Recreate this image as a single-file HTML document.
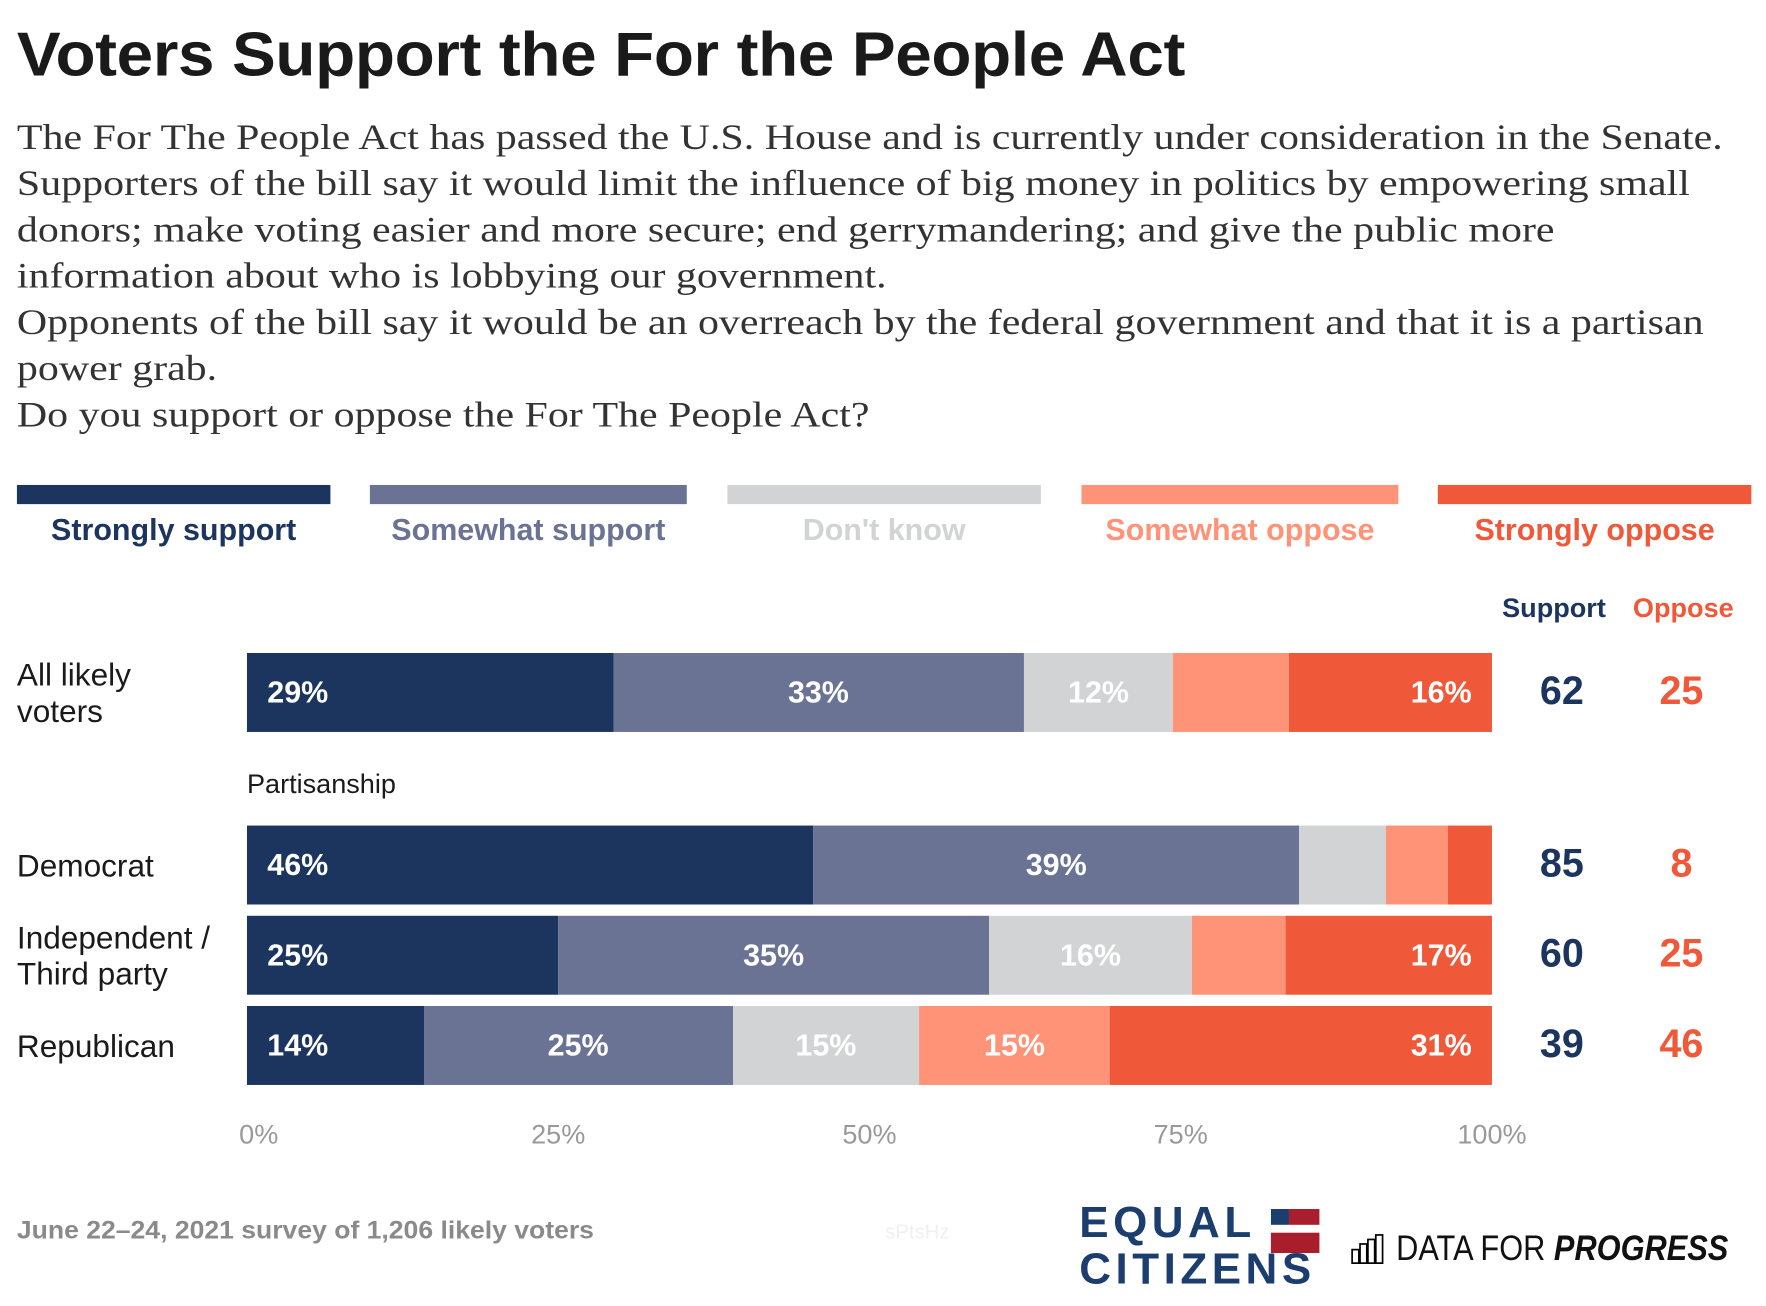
<!DOCTYPE html>
<html><head><meta charset="utf-8">
<style>
html,body{margin:0;padding:0;background:#fff;overflow:hidden}
#wrap{width:1766px;height:1306px;position:relative;overflow:hidden}
#page{position:absolute;left:0;top:0;width:1566px;height:1158px;transform-origin:0 0;transform:scale(1.12771,1.12781);font-family:"Liberation Sans",sans-serif}
.abs{position:absolute;white-space:nowrap}
#title{left:15px;top:16px;font-size:55px;font-weight:bold;color:#1a1a1a;letter-spacing:-0.3px;transform:scaleX(1.058);transform-origin:0 0}
#desc{left:15px;top:101px;font-family:"Liberation Serif",serif;font-size:31.5px;line-height:41px;color:#333;transform:scaleX(1.18);transform-origin:0 0}
.rowlab{font-size:28px;color:#1a1a1a;line-height:32px}
</style></head>
<body>
<div id="wrap"><div id="page">
<div class="abs" id="title">Voters Support the For the People Act</div>
<div class="abs" id="desc">The For The People Act has passed the U.S. House and is currently under consideration in the Senate.<br>Supporters of the bill say it would limit the influence of big money in politics by empowering small<br>donors; make voting easier and more secure; end gerrymandering; and give the public more<br>information about who is lobbying our government.<br>Opponents of the bill say it would be an overreach by the federal government and that it is a partisan<br>power grab.<br>Do you support or oppose the For The People Act?</div>
<div class="abs" style="left:1332px;top:526px;font-size:24px;font-weight:bold;color:#1c355e">Support</div>
<div class="abs" style="left:1448px;top:526px;font-size:24px;font-weight:bold;color:#f0583a">Oppose</div>
<div class="abs rowlab" style="left:15px;top:583px">All likely<br>voters</div>
<div class="abs" style="left:219px;top:682px;font-size:24px;color:#1a1a1a">Partisanship</div>
<div class="abs rowlab" style="left:15px;top:752px">Democrat</div>
<div class="abs rowlab" style="left:15px;top:816px">Independent /<br>Third party</div>
<div class="abs rowlab" style="left:15px;top:912px">Republican</div>
<div id="plot"></div>
<div class="abs" style="left:15px;top:1078px;font-size:22px;font-weight:bold;color:#8a8a8a;transform:scaleX(1.07);transform-origin:0 0">June 22–24, 2021 survey of 1,206 likely voters</div>
<div class="abs" style="left:785px;top:1082px;font-size:18px;color:#f0f0f0">sPtsHz</div>
<div class="abs" style="left:957px;top:1064px;font-size:39px;font-weight:bold;color:#1c3e6e;letter-spacing:4px;line-height:41px">EQUAL<br>CITIZENS</div>
<div class="abs" style="left:1127px;top:1072px;width:16px;height:14px;background:#1c3e6e"></div>
<div class="abs" style="left:1143px;top:1072px;width:27px;height:14px;background:#a81e2d"></div>
<div class="abs" style="left:1127px;top:1093px;width:43px;height:18px;background:#a81e2d"></div>
<svg class="abs" style="left:1198px;top:1094px" width="30" height="28"><g fill="none" stroke="#000" stroke-width="1.5"><rect x="1" y="14" width="6" height="12"/><rect x="8" y="9" width="6" height="17"/><rect x="15" y="5" width="6" height="21"/><rect x="22" y="1" width="6" height="25"/></g></svg>
<div class="abs" style="left:1238px;top:1089px;font-size:31px;color:#111;transform:scaleX(0.88);transform-origin:0 0">DATA FOR <b><i>PROGRESS</i></b></div>
</div></div>
<script>
const categories = ["All likely voters","Democrat","Independent / Third party","Republican"];
const strongSupport = [29.4,45.5,25,14.2];
const someSupport = [33,39,34.6,24.8];
const dontKnow = [12,7,16.3,15];
const someOppose = [9.3,5,7.5,15.3];
const strongOppose = [16.3,3.5,16.6,30.7];
const supportTotals = [62,85,60,39];
const opposeTotals = [25,8,25,46];
const tickValues = [0,25,50,75,100];
const tickLabels = ["0%","25%","50%","75%","100%"];
const legendLabels = ["Strongly support","Somewhat support","Don't know","Somewhat oppose","Strongly oppose"];
const colors = ["#1c355e","#6a7394","#d2d3d5","#fe9378","#f0583a"];
const rowTops = [579,732,812,892];
const X0=219, X1=1323, BH=70;
const x = v => X0 + (X1-X0)*v/100;
const page = document.getElementById('plot');
function div(css){const d=document.createElement('div');d.className='abs';d.style.cssText=css;page.appendChild(d);return d;}
const legX=[15,328,645,959,1275], legW=[278,281,278,281,278];
legendLabels.forEach((l,i)=>{
  const b=div('left:'+legX[i]+'px;top:430px;width:'+legW[i]+'px;height:17px;background:'+colors[i]);
  
  
  const t=div('left:'+legX[i]+'px;top:455px;width:'+legW[i]+'px;text-align:center;font-size:27px;font-weight:bold;color:'+colors[i]);
  t.textContent=l;
  
  
});
const series=[strongSupport,someSupport,dontKnow,someOppose,strongOppose];
categories.forEach((c,r)=>{
  let acc=0;
  const top=rowTops[r];
  series.forEach((s,k)=>{
    const v=s[r];
    const l=x(acc), w=x(acc+v)-l;
    const seg=div('left:'+l+'px;top:'+top+'px;width:'+w+'px;height:'+BH+'px;background:'+colors[k]);
    
    
    if(v>=10){
      const t=div('top:'+(top+20)+'px;font-size:27px;font-weight:bold;color:#fff');
      t.textContent=Math.round(v)+'%';
      if(k===0){t.style.left=(l+18)+'px';}
      else if(k===4){t.style.right=(1566-(l+w)+18)+'px';}
      else {t.style.left=(l+w/2)+'px';t.style.transform='translateX(-50%)';}
      
      
    }
    acc+=v;
  });
  const s=div('left:1385px;top:'+(top+14)+'px;transform:translateX(-50%);font-size:35px;font-weight:bold;color:#1c355e');
  s.textContent=supportTotals[r];
  
  
  const o=div('left:1491px;top:'+(top+14)+'px;transform:translateX(-50%);font-size:35px;font-weight:bold;color:#f0583a');
  o.textContent=opposeTotals[r];
  
  
});
tickValues.forEach((v,i)=>{
  const t=div('top:993px;font-size:24px;color:#999;left:'+x(v)+'px;transform:translateX(-'+(i===0?20:50)+'%)');
  t.textContent=tickLabels[i];
  
  
});
</script>
</body></html>
